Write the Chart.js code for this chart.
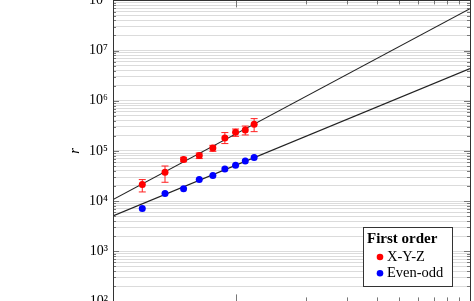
<!DOCTYPE html>
<html><head><meta charset="utf-8">
<script src="https://cdn.jsdelivr.net/npm/chart.js@4"></script>
<style>
html,body{margin:0;padding:0;overflow:hidden;background:#fff;width:474px;height:301px}
#wrap{position:absolute;left:0;top:0;width:474px;height:341px}
</style>
</head><body><div id="wrap"><canvas id="c"></canvas></div>
<script>
const xValues=[4,5,6,7,8,9,10,11,12];
const xyzValues=[2.13e4,3.75e4,6.71e4,8.06e4,1.14e5,1.81e5,2.35e5,2.61e5,3.39e5];
const xyzErrLow=[1.52e4,2.37e4,6.07e4,7.03e4,9.8e4,1.40e5,1.95e5,2.08e5,2.42e5];
const xyzErrHigh=[2.68e4,5.0e4,7.46e4,9.08e4,1.29e5,2.32e5,2.73e5,3.13e5,4.40e5];
const evenOddValues=[7.1e3,1.41e4,1.77e4,2.68e4,3.22e4,4.36e4,5.16e4,6.3e4,7.36e4];
const fitX=[3,100];
const fitXYZ=[1.07e4,6.84e7];
const fitEvenOdd=[5.05e3,4.36e6];
const xTickValues=[10,20,30,40,50,60,70,80,90,100];
const yDecades=[2,3,4,5,6,7,8];
const yLabels=['10²','10³','10⁴','10⁵','10⁶','10⁷','10⁸'];
const legendTitle='First order';
const seriesNames=['X-Y-Z','Even-odd'];
const seriesColors=['#ff0000','#0000ff'];

const yTickValues=[];
yDecades.forEach((e,i)=>{
  const base=Math.pow(10,e);
  if(i===yDecades.length-1){yTickValues.push(base);return;}
  for(let m=1;m<=9;m++) yTickValues.push(m*base);
});
const majorSet=new Map(yDecades.map((e,i)=>[Math.pow(10,e),yLabels[i]]));
function isMajor(v){for(const k of majorSet.keys()){if(Math.abs(v/k-1)<1e-6)return majorSet.get(k);}return null;}

const serif='"Liberation Serif", "DejaVu Serif", serif';

const decor={
  id:'decor',
  beforeDatasetsDraw(chart){
    const ctx=chart.ctx, x=chart.scales.x, y=chart.scales.y;
    ctx.save();
    ctx.strokeStyle='#ff2020';ctx.lineWidth=1;
    xValues.forEach((xv,i)=>{
      const px=x.getPixelForValue(xv);
      const y1=y.getPixelForValue(xyzErrLow[i]), y2=y.getPixelForValue(xyzErrHigh[i]);
      ctx.beginPath();
      ctx.moveTo(px,y1);ctx.lineTo(px,y2);
      ctx.moveTo(px-3.5,y1);ctx.lineTo(px+3.5,y1);
      ctx.moveTo(px-3.5,y2);ctx.lineTo(px+3.5,y2);
      ctx.stroke();
    });
    ctx.restore();
  },
  afterDraw(chart){
    const ctx=chart.ctx, ca=chart.chartArea, x=chart.scales.x, y=chart.scales.y;
    ctx.save();
    ctx.strokeStyle='#777';ctx.lineWidth=1;
    ctx.beginPath();
    xTickValues.forEach(v=>{
      const px=Math.round(x.getPixelForValue(v))+0.5;
      const len=(v===10||v===100)?7:4;
      ctx.moveTo(px,ca.bottom);ctx.lineTo(px,ca.bottom-len);
      ctx.moveTo(px,ca.top);ctx.lineTo(px,ca.top+len);
    });
    yTickValues.forEach(v=>{
      const py=Math.round(y.getPixelForValue(v))+0.5;
      const len=isMajor(v)?6:3;
      ctx.moveTo(ca.left,py);ctx.lineTo(ca.left+len,py);
      ctx.moveTo(ca.right,py);ctx.lineTo(ca.right-len,py);
    });
    ctx.stroke();
    ctx.strokeStyle='#333';
    ctx.strokeRect(Math.round(ca.left)+0.5,Math.round(ca.top)+0.5,Math.round(ca.right-ca.left),Math.round(ca.bottom-ca.top));
    const bx=Math.round(ca.right-107)+0.5, by=Math.round(ca.top+226.5)+0.5, bw=89, bh=59;
    ctx.fillStyle='#fff';ctx.fillRect(bx,by,bw,bh);
    ctx.strokeStyle='#333';ctx.strokeRect(bx,by,bw,bh);
    ctx.fillStyle='#000';ctx.textBaseline='middle';ctx.textAlign='left';
    ctx.font='bold 15px '+serif;
    ctx.fillText(legendTitle,bx+3.5,by+12);
    ctx.font='14.5px '+serif;
    seriesNames.forEach((n,i)=>{
      const cy=by+29.5+i*16.3;
      ctx.fillStyle=seriesColors[i];
      ctx.beginPath();ctx.arc(bx+16.5,cy,3.3,0,Math.PI*2);ctx.fill();
      ctx.fillStyle='#000';
      ctx.fillText(n,bx+23.5,cy);
    });
    ctx.restore();
  }
};

const chart=new Chart(document.getElementById('c'),{
  type:'scatter',
  data:{datasets:[
    {label:seriesNames[0],data:xValues.map((v,i)=>({x:v,y:xyzValues[i]})),backgroundColor:seriesColors[0],borderColor:seriesColors[0],pointRadius:3.5,pointBorderWidth:0},
    {label:seriesNames[1],data:xValues.map((v,i)=>({x:v,y:evenOddValues[i]})),backgroundColor:seriesColors[1],borderColor:seriesColors[1],pointRadius:3.5,pointBorderWidth:0},
    {label:'fit1',data:fitX.map((v,i)=>({x:v,y:fitXYZ[i]})),showLine:true,borderColor:'#222',borderWidth:1.2,pointRadius:0},
    {label:'fit2',data:fitX.map((v,i)=>({x:v,y:fitEvenOdd[i]})),showLine:true,borderColor:'#222',borderWidth:1.2,pointRadius:0}
  ]},
  options:{
    responsive:true,maintainAspectRatio:false,animation:false,
    layout:{padding:{left:0,right:0,top:0,bottom:0}},
    plugins:{legend:{display:false},tooltip:{enabled:false}},
    scales:{
      x:{type:'logarithmic',min:3,max:100,
        ticks:{display:false},grid:{display:false,drawTicks:false},border:{display:false}},
      y:{type:'logarithmic',min:100,max:1e8,
        afterBuildTicks:s=>{s.ticks=yTickValues.map(v=>({value:v}));},
        afterFit:s=>{s.width=113;},
        ticks:{autoSkip:false,padding:5,color:'#000',font:{family:serif,size:14},
          callback:v=>isMajor(v)||''},
        grid:{drawTicks:false,color:'rgba(0,0,0,0.14)',lineWidth:1},
        border:{display:false},
        title:{display:true,text:'r',color:'#000',font:{family:serif,size:15,style:'italic'},padding:{top:66,bottom:0}}
      }
    }
  },
  plugins:[decor]
});
const H=341;
const ca=chart.chartArea;
const topPad=ca.top, botPad=H-ca.bottom;
const wrap=document.getElementById('wrap');
wrap.style.top=(-topPad)+'px';
wrap.style.height=(301+topPad+botPad)+'px';
chart.resize();
</script>
</body></html>
